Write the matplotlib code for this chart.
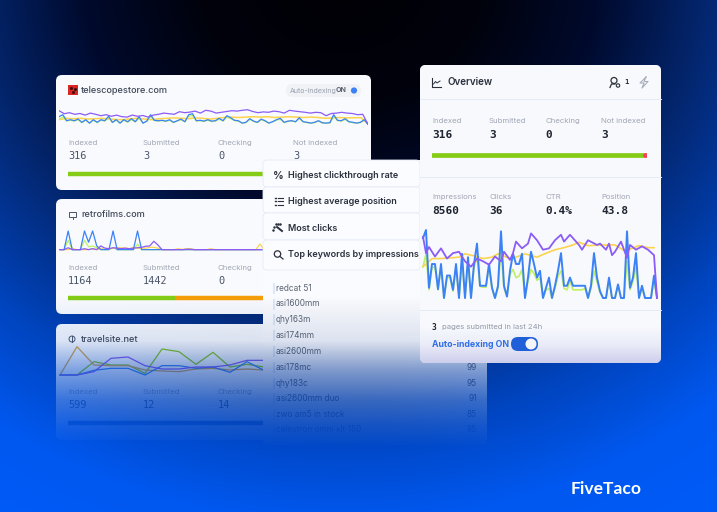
import numpy as np
import matplotlib
matplotlib.use("Agg")
import matplotlib.pyplot as plt
from matplotlib.patches import FancyBboxPatch, Circle, Rectangle

plt.rcParams['font.family'] = ['Inter', 'DejaVu Sans']

# ---------- data ----------
stat_labels = ["Indexed", "Submitted", "Checking", "Not indexed"]
perf_labels = ["Impressions", "Clicks", "CTR", "Position"]
overview_stats = ["316", "3", "0", "3"]
overview_perf = ["8560", "36", "0.4%", "43.8"]
card1_stats = ["316", "3", "0", "3"]
card2_stats = ["1164", "1442", "0"]
card3_stats = ["599", "12", "14"]
overview_bar = [316, 3, 3]
card1_bar = [316, 3, 3]
card2_bar = [1164, 1442, 560]
card3_bar = [599, 12, 14]
menu_items = ["Highest clickthrough rate", "Highest average position", "Most clicks", "Top keywords by impressions"]
keywords = ["redcat 51", "asi1600mm", "qhy163m", "asi174mm", "asi2600mm", "asi178mc", "qhy183c",
            "asi2600mm duo", "zwo am5 in stock", "celestron omni xlt 150"]
keyword_values = ["", "", "", "", "", "99", "95", "91", "85", "85"]

main_blue = [88,100,15,50,50,13,50,0,33,33,12,50,0,65,0,60,0,50,80,18,18,18,50,15,0,18,98,18,2,40,65,50,50,65,0,30,
             68,50,30,40,0,15,30,0,18,40,66,18,18,30,18,18,18,18,18,0,18,66,30,10,0,0,30,0,0,20,0,0,98,15,30,66,0,18,0,0,0,33,0]
main_green = [46,65,12,45,45,12,45,0,30,30,10,45,0,55,0,50,0,45,60,17,16,16,45,14,0,14,70,14,3,35,42,30,32,42,0,25,
              42,36,26,30,0,12,14,0,14,32,40,14,12,25,12,12,12,12,14,0,14,40,24,8,0,0,26,0,0,18,0,0,55,12,25,45,0,14,0,0,0,26,0]
main_purple_days = [0,1,2,4,6,8,10,12,14,16,18,20,22,24,26,27,29,30,31,33,35,36,38,40,42,44,46,47,49,52,53,55,58,59,61,62,63,64,66,68,69,71,73,75,77,78]
main_purple = [90,66,75,61,73,58,66,68,54,46,58,54,49,61,54,68,56,66,83,73,80,95,85,71,73,85,93,83,93,78,71,85,78,80,71,80,63,68,83,59,78,71,76,71,63,0]
main_yellow_days = [0,1,3,6,9,12,14,17,20,23,25,29,31,34,38,40,44,47,50,52,55,60,64,67,69,72,75,77]
main_yellow = [46,50,58,58,59,60,65,62,58,60,65,58,60,65,60,64,71,74,78,82,77,78,78,70,72,77,74,74]

c1_blue = [50,60,30,35,30,38,22,35,18,35,22,35,30,52,22,35,18,35,25,40,25,50,18,28,60,32,30,32,28,35,22,30,38,25,60,65,
           30,32,28,35,28,30,42,30,55,45,32,30,18,22,40,28,22,38,30,18,25,35,42,22,28,30,25,45,25,22,18,22,30,20,18,20,60,32,30,40,25,22,18,22,35,12]
c1_green = [38,48,28,32,28,35,20,32,18,32,20,32,28,45,20,32,18,32,22,35,24,42,18,26,50,30,28,30,26,32,20,28,34,24,52,56,
            28,30,26,32,25,28,38,28,48,40,30,28,18,20,36,26,20,34,28,18,24,32,38,20,26,28,24,40,24,20,18,20,28,18,18,18,52,30,28,36,24,20,18,20,30,12]
c1_purple = [80,65,70,62,66,58,68,62,55,60,52,58,50,48,58,52,56,48,58,62,68,65,62,75,70,73,78,68,82,78,68,72,76,80,78,82,85,76,70,74,72,78,75,68,82,78,75,72,68,72,70,55,66,68,72,68,66,60,62,12]
c1_yellow = [35,42,40,42,38,40,42,38,36,35,40,42,38,35,40,42,44,42,40,44,42,38,42,46,48,46,48,50,48,50,46,48,50,48,46,48,46,42,44,46,44,45,45,18]

c2_blue = [0,0,100,0,0,0,100,40,100,20,0,0,0,100,0,0,0,0,0,100,0,0,0,0,0,0,0,0,0,0,0,0,0,0,0,0,0,0,0,0,0,0,0,0,0,0,0,0,0,0,0]
c2_green = [0,0,50,0,0,0,50,15,20,10,0,0,0,10,0,0,0,0,0,30,0,0,0,0,0,0,0,0,0,0,0,0,0,0,0,0,0,0,0,0,0,0,0,0,0,0,0,0,0,0,0]
c2_yellow = [0,0,0,8,0,0,0,0,5,0,8,0,5,8,8,10,8,5,12,8,8,8,12,12,8,0,0,0,0,5,0,5,5,0,0,0,0,5,0,0,0,0,0,0,0,0,0,0,0,30,0]
c2_purple = [0,0,10,0,0,0,5,0,5,0,20,8,5,10,8,5,8,5,8,10,12,18,20,45,25,0,0,0,0,0,0,2,2,0,0,0,0,0,0,0,0,0,0,0,0,0,0,0,0,0,0]

c3_green = [0,0,40,30,30,5,78,70,32,68,24,32,24]
c3_yellow = [0,85,30,28,28,15,12,10,18,20,15,18,15]
c3_blue = [0,0,14,20,20,0,28,28,20,24,8,40,14]
c3_purple = [0,0,10,50,54,28,18,18,24,24,30,44,44]

BLUE = "#3b82f6"; GREEN = "#bef264"; PURPLE = "#8b5cf6"; YELLOW = "#fcd34d"

# ---------- helpers ----------
W, H = 717, 512
fig = plt.figure(figsize=(W / 100, H / 100), dpi=100)

def layer(z):
    a = fig.add_axes([0, 0, 1, 1], zorder=z)
    a.set_xlim(0, W); a.set_ylim(H, 0); a.axis("off"); a.patch.set_alpha(0)
    return a

def inset(x0, y0, x1, y1, z):
    a = fig.add_axes([x0 / W, 1 - y1 / H, (x1 - x0) / W, (y1 - y0) / H], zorder=z)
    a.axis("off"); a.patch.set_alpha(0)
    return a

def card(a, x0, y0, x1, y1, fc="#f8fafe", r=6, ec="none", z=2):
    p = FancyBboxPatch((x0, y0), x1 - x0, y1 - y0, boxstyle=f"round,pad=0,rounding_size={r}",
                       fc=fc, ec=ec, lw=0.6, zorder=z)
    a.add_patch(p)
    return p

def stacked(x0, x1, y, vals, cols, z, lw=3.2):
    a = inset(x0, y - 4, x1, y + 4, z)
    a.set_xlim(0, sum(vals)); a.set_ylim(-1, 1)
    left = 0
    for i, (v, c) in enumerate(zip(vals, cols)):
        a.plot([left, left + v], [0, 0], color=c, lw=lw, solid_capstyle="round" if i in (0, len(vals) - 1) else "butt")
        left += v
    return a

MONO = ["DejaVu Sans Mono"]
GREY = "#a0a6b4"; DARK = "#4b5568"

def stats(a, xs, yl, yv, labels, vals, col=DARK, size=7.4, weight="normal", lsize=5.6):
    for x, l, v in zip(xs, labels, vals):
        a.text(x, yl, l, fontsize=lsize, color=GREY, va="center", ha="left")
        a.text(x, yv, v, fontsize=size, color=col, va="center", ha="left", family=MONO, weight=weight)

# ---------- background ----------
bgax = layer(0)
yy, xx = np.mgrid[0:H, 0:W]
d = np.sqrt(((xx - 340) / 520) ** 2 + ((yy + 30) / 480) ** 2)
stops = [0, 0.28, 0.5, 0.72, 0.95, 1.15, 1.4]
r = np.interp(d, stops, [0, 0, 0, 4, 0, 0, 0])
g = np.interp(d, stops, [0, 2, 10, 40, 68, 88, 92])
b = np.interp(d, stops, [4, 12, 45, 115, 190, 240, 250])
bg = np.dstack([r, g, b]) / 255
bgax.imshow(bg, extent=(0, W, H, 0), aspect="auto", zorder=0, interpolation="bilinear")
bgax.set_xlim(0, W); bgax.set_ylim(H, 0)

# ---------- cards 1-3 ----------
card(bgax, 56, 75, 371, 190)
card(bgax, 56, 199, 371, 314)
card(bgax, 56, 324, 371, 440)
xs4 = [68, 143, 218, 293]

bgax.add_patch(Rectangle((68, 85), 10, 10, fc="#dc2626", ec="none", zorder=3))
bgax.plot([71, 75, 73], [88, 89, 92], ls="", marker="o", ms=1.2, color="#401010", zorder=4)
bgax.text(81, 90.5, "telescopestore.com", fontsize=6.6, color="#3f4857", weight="medium", va="center", zorder=4)
card(bgax, 286, 84, 361, 97, fc="#f0f2f6", r=6, z=3)
bgax.text(290, 90.5, "Auto-indexing", fontsize=5.1, color="#9aa1af", va="center", zorder=4)
bgax.text(336, 90.5, "ON", fontsize=5.1, color="#5b6472", weight="bold", va="center", zorder=4)
bgax.add_patch(Circle((354, 90.5), 3.1, fc=BLUE, ec="none", zorder=4))
stats(bgax, xs4, 143, 156, stat_labels, card1_stats)

bgax.add_patch(Rectangle((69, 212), 7, 5, fc="none", ec="#4b5568", lw=0.7, zorder=4))
bgax.plot([72.5, 72.5], [217, 219], color="#4b5568", lw=0.7, zorder=4)
bgax.text(81, 214.5, "retrofilms.com", fontsize=6.6, color="#3f4857", weight="medium", va="center", zorder=4)
stats(bgax, xs4[:3], 268, 280.5, stat_labels, card2_stats)

bgax.add_patch(Circle((72, 339), 3, fc="none", ec="#4b5568", lw=0.7, zorder=4))
bgax.plot([72, 72], [336, 342], color="#4b5568", lw=0.7, zorder=4)
bgax.text(81, 339.5, "travelsite.net", fontsize=6.6, color="#3f4857", weight="medium", va="center", zorder=4)
stats(bgax, xs4[:3], 392, 404.5, stat_labels, card3_stats)

# card charts
ax1 = inset(59, 106.7, 368, 126.7, 1)
ax1.set_ylim(0, 100)
ax1.set_xlim(0, 1)
for vals, col, lw in [(c1_yellow, YELLOW, 1.1), (c1_green, GREEN, 0.9), (c1_blue, BLUE, 0.9), (c1_purple, PURPLE, 0.9)]:
    ax1.plot(np.linspace(0, 1, len(vals)), vals, color=col, lw=lw)
stacked(68, 360, 174, card1_bar, ["#84cc16", "#f59e0b", "#f43f5e"], 1)

ax2 = inset(60, 231, 264, 250, 1)
ax2.set_ylim(-2, 100); ax2.set_xlim(0, len(c2_blue) - 1)
for vals, col in [(c2_green, GREEN), (c2_yellow, YELLOW), (c2_blue, BLUE), (c2_purple, PURPLE)]:
    ax2.plot(vals, color=col, lw=0.9, clip_on=False)
stacked(68, 360, 298, card2_bar, ["#84cc16", "#f59e0b", "#f43f5e"], 1)

ax3 = inset(60, 360, 264, 375, 1)
ax3.set_ylim(0, 42); ax3.set_xlim(0, len(c3_blue) - 1)
ax3.set_ylim(0, 15 / 15 * 45)
for vals, col in [(c3_green, "#84cc16"), (c3_yellow, "#d9a441"), (c3_blue, BLUE), (c3_purple, PURPLE)]:
    ax3.plot(vals, color=col, lw=0.9, clip_on=False)
stacked(68, 360, 423, card3_bar, ["#2f5fa0", "#2f5fa0", "#2f5fa0"], 1)

# ---------- popup ----------
pop = layer(2)
card(pop, 263, 160, 487, 445, fc="#fafbfe", r=4, z=1)
card(pop, 263, 160, 420, 187, fc="#fbfcff", r=4, ec="#e6ebf6", z=2)
card(pop, 263, 187, 420, 213, fc="#fbfcff", r=4, ec="#e6ebf6", z=2)
card(pop, 263, 213, 420, 240, fc="#fbfcff", r=4, ec="#e6ebf6", z=2)
card(pop, 263, 240, 420, 270, fc="#fbfcff", r=4, ec="#e6ebf6", z=2)
menu_y = [176, 201, 228.5, 254.5]
menu_x = [288, 288.5, 287.5, 288.5]
for t, x, y in zip(menu_items, menu_x, menu_y):
    pop.text(x, y, t, fontsize=6.5, color="#2a303c", weight="semibold", va="center", zorder=3)
pop.text(273.5, 176, "%", fontsize=7.5, color="#2a303c", ha="left", va="center", zorder=3, weight="bold")
for yy_ in (197.5, 201, 204.5):
    pop.plot([278, 283], [yy_, yy_], color="#2a303c", lw=0.8, zorder=3)
    pop.plot([274.5, 275.8], [yy_, yy_], color="#2a303c", lw=1.0, zorder=3)
pop.plot([277, 282], [227, 231], color="#2a303c", lw=1.4, zorder=3)
pop.plot([274, 276, 278, 273, 280], [227, 224, 224, 230, 224], ls="", marker="o", ms=0.8, color="#2a303c", zorder=3)
pop.add_patch(Circle((277.5, 254), 3.2, fc="none", ec="#2a303c", lw=0.9, zorder=3))
pop.plot([280, 283], [256.5, 259], color="#2a303c", lw=0.9, zorder=3)

key_y = [288.3, 304, 319.7, 335.7, 351.3, 367, 383, 398.7, 414.3, 430]
for t, n, y in zip(keywords, keyword_values, key_y):
    pop.add_patch(Rectangle((273, y - 5.5), 2.4, 11, fc="#dce7fb", ec="none", zorder=2))
    pop.text(275.5, y, t, fontsize=6.0, color="#5b6472", va="center", zorder=3)
    if n:
        pop.text(477, y, n, fontsize=6.0, color="#5b6472", va="center", ha="right", zorder=3)

# ---------- fade ----------
fade = layer(3)
alpha = np.interp(yy, [295, 340, 370, 400, 425, 445], [0, 0.12, 0.5, 0.78, 0.92, 1.0])
fade.imshow(np.dstack([bg, alpha]), extent=(0, W, H, 0), aspect="auto", interpolation="bilinear")
fade.set_xlim(0, W); fade.set_ylim(H, 0)

# ---------- overview ----------
ov = layer(4)
p = card(ov, 420, 65, 661, 363, fc="#f8fafe", r=6, z=1)
grad = np.ones((H, 1, 4))
shade = np.interp(np.arange(H), [60, 325, 345, 363], [1.0, 1.0, 0.94, 0.82])
grad[:, 0, 0] = 0.973 * shade; grad[:, 0, 1] = 0.98 * shade; grad[:, 0, 2] = 0.996 * (shade * 0.4 + 0.6)
im = ov.imshow(grad, extent=(0, W, H, 0), aspect="auto", zorder=1.5, interpolation="bilinear")
im.set_clip_path(p)
ov.set_xlim(0, W); ov.set_ylim(H, 0)
for y in (99, 177, 310):
    ov.plot([420, 661], [y, y], color="#e6ecf7", lw=0.7, zorder=2)
ov.plot([431.5, 431.5, 441], [78, 87, 87], color="#2a303c", lw=0.8, zorder=3)
ov.plot([433.5, 435.5, 437, 440], [84, 81.5, 83, 81], color="#2a303c", lw=0.7, zorder=3)
ov.text(447, 82, "Overview", fontsize=7.1, color="#2a303c", weight="semibold", va="center", zorder=3)
ov.add_patch(Circle((614, 80.5), 3, fc="none", ec="#2a303c", lw=0.9, zorder=3))
ov.plot([610, 611.5, 615], [87.5, 84, 84], color="#2a303c", lw=0.9, zorder=3)
ov.add_patch(Circle((618, 85.5), 1.7, fc="none", ec="#2a303c", lw=0.8, zorder=3))
ov.text(624, 82, "1", fontsize=5.2, color="#2a303c", va="center", family=MONO, weight="bold", zorder=3)
ov.plot([646, 640, 644, 642, 648, 644, 646], [77, 83, 83, 88, 81.5, 81.5, 77], color="#a8aeba", lw=0.8, zorder=3)
xsv = [432, 489, 545, 601]
for x, l, v in zip(xsv, stat_labels, overview_stats):
    ov.text(x, 121, l, fontsize=5.6, color=GREY, va="center", zorder=3)
    ov.text(x, 135, v, fontsize=8, color="#1e2430", va="center", family=MONO, weight="bold", zorder=3)
for x, l, v in zip(xsv, perf_labels, overview_perf):
    ov.text(x, 197, l, fontsize=5.6, color=GREY, va="center", zorder=3)
    ov.text(x, 211, v, fontsize=8, color="#1e2430", va="center", family=MONO, weight="bold", zorder=3)
ov.text(432, 327, "3", fontsize=5.6, color="#1e2430", va="center", family=MONO, weight="bold", zorder=3)
ov.text(442, 327, "pages submitted in last 24h", fontsize=5.5, color="#9097a5", va="center", zorder=3)
ov.text(432, 344.5, "Auto-indexing ON", fontsize=6.3, color="#2f6fe4", weight="bold", va="center", zorder=3)
card(ov, 511, 337, 538, 351, fc="#1f5fd8", r=7, z=3)
ov.add_patch(Circle((531, 344), 5.5, fc="#f4f5f8", ec="none", zorder=4))

stacked(432, 647, 155, overview_bar, ["#84cc16", "#f59e0b", "#f43f5e"], 5, lw=3.4)

axm = inset(423, 230, 657, 298, 5)
axm.set_xlim(0, 78); axm.set_ylim(0, 100)
axm.plot(main_green, color=GREEN, lw=1.2, clip_on=False)
axm.plot(main_yellow_days, main_yellow, color=YELLOW, lw=1.2, clip_on=False)
axm.plot(main_blue, color=BLUE, lw=1.4, clip_on=False)
axm.plot(main_purple_days, main_purple, color=PURPLE, lw=1.3, clip_on=False)

# ---------- logo ----------
top = layer(6)
top.text(571, 488.5, "FiveTaco", fontsize=12.6, color="white", weight="bold", va="center", family=["Lato", "DejaVu Sans"])

fig.savefig("out.png", dpi=100)
